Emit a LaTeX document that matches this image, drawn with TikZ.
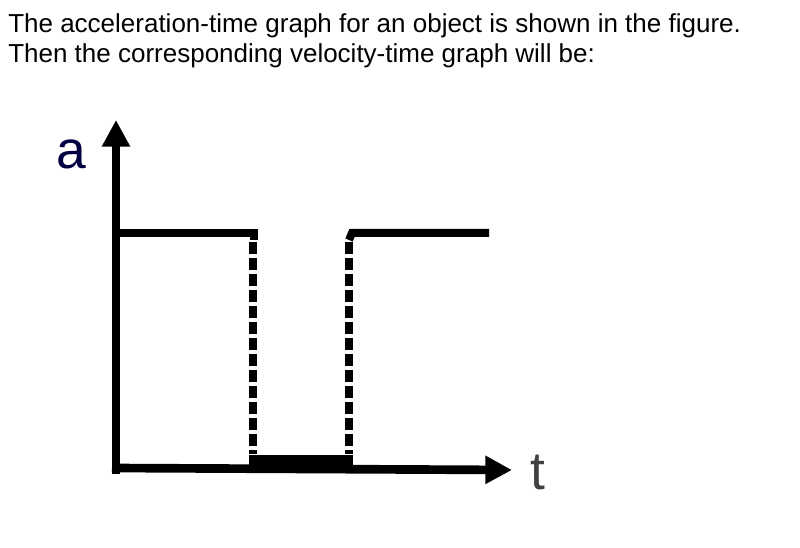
\documentclass[tikz,border=0pt]{standalone}
\usepackage{fontspec}
\setmainfont{Liberation Sans}
\usetikzlibrary{arrows.meta}
\begin{document}
\begin{tikzpicture}[x=0.75pt,y=-0.75pt,
  ax/.style={line width=6.5pt, -{Triangle[length=20pt,width=20pt]}},
  lvl/.style={line width=6pt},
  dsh/.style={line width=6pt, dash pattern=on 9pt off 3pt},
  txt/.style={anchor=west, inner sep=0pt, font=\fontsize{19.5}{22}\selectfont}]
\useasboundingbox (0,0) rectangle (800,548);
\node[txt] (l1) at (8,26) {The acceleration-time graph for an object is shown in the figure.};
\node[txt] (l2) at (8,56) {Then the corresponding velocity-time graph will be:};
\coordinate (ytop) at (116,120);
\coordinate (xend) at (512,470);
\draw[ax] (116,474) -- (ytop);
\draw[ax] (112,468) -- (xend);
\draw[lvl] (116,233) -- (254,233) -- (254,240);
\draw[dsh] (253,242) -- (253,454);
\fill (249,455) rectangle (353,470);
\draw[dsh] (349,242) -- (349,454);
\draw[lvl] (349,240) -- (352,233) -- (489,233);
\node[font=\fontsize{40}{40}\selectfont, text=black!75!blue, inner sep=0pt] (a) at (71,154) {a};
\node[font=\fontsize{40}{40}\selectfont, text=black!75, inner sep=0pt] (t) at (538,472) {t};
\end{tikzpicture}
\end{document}
